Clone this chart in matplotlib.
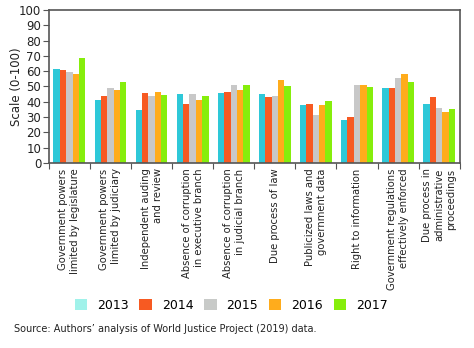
import numpy as np
import matplotlib
matplotlib.use("Agg")
import matplotlib.pyplot as plt
from matplotlib.patches import Patch

# categories and scores
categories = [
    "Government powers\nlimited by legislature",
    "Government powers\nlimited by judiciary",
    "Independent auding\nand review",
    "Absence of corruption\nin executive branch",
    "Absence of corruption\nin judicial branch",
    "Due process of law",
    "Publicized laws and\ngovernment data",
    "Right to information",
    "Government regulations\neffectively enforced",
    "Due process in\nadministrative\nproceedings",
]
years = ["2013", "2014", "2015", "2016", "2017"]
v2013 = [61.2, 41.4, 34.5, 44.8, 45.5, 45.3, 37.7, 28.0, 48.8, 38.8]
v2014 = [60.6, 43.8, 45.5, 38.8, 46.2, 42.9, 38.6, 29.7, 48.8, 42.9]
v2015 = [59.7, 48.8, 43.8, 44.8, 51.2, 43.6, 31.2, 51.2, 55.3, 36.2]
v2016 = [57.9, 47.9, 46.2, 41.2, 47.9, 54.4, 37.7, 51.2, 57.9, 33.0]
v2017 = [68.8, 52.9, 44.5, 43.6, 51.2, 50.3, 40.3, 49.5, 52.7, 35.4]
series = [v2013, v2014, v2015, v2016, v2017]

bar_colors = ["#2ec8d8", "#f75a22", "#c8c8c8", "#ffac1c", "#86ee0c"]
legend_colors = ["#a0f2ea", "#f75a22", "#c8cac8", "#ffac1c", "#86ee0c"]

fig = plt.figure(figsize=(4.74, 3.48), dpi=100)
ax = fig.add_axes([0.103, 0.532, 0.867, 0.439])

x = np.arange(len(categories))
w = 0.155
for i, vals in enumerate(series):
    ax.bar(x + (i - 2) * w, vals, width=w, color=bar_colors[i], linewidth=0)

ax.set_xlim(-0.5, len(categories) - 0.5)
ax.set_ylim(0, 100)
ax.set_yticks(np.arange(0, 101, 10))
ax.set_xticks(np.arange(-0.5, len(categories), 1))
ax.set_xticklabels([])
ax.set_xticks(x, minor=True)
ax.set_xticklabels(categories, minor=True, rotation=90, fontsize=7.2,
                   ha="right", va="center", rotation_mode="anchor",
                   multialignment="right", color="#222222", linespacing=1.25)
ax.tick_params(axis="x", which="minor", length=0, pad=4)
ax.tick_params(axis="x", which="major", length=4, direction="out", color="#555555")
ax.tick_params(axis="y", length=4, direction="out", color="#555555",
               labelsize=8.5, pad=1.5, labelcolor="#222222")
for s in ax.spines.values():
    s.set_color("#555555")
    s.set_linewidth(1.2)

ax.set_ylabel("Scale (0-100)", fontsize=8.5, color="#222222")
ax.yaxis.set_label_coords(-0.063, 0.5)

handles = [Patch(facecolor=c, edgecolor="none") for c in legend_colors]
fig.legend(handles, years, loc="center", bbox_to_anchor=(0.488, 0.123), ncol=5,
           frameon=False, fontsize=9, handlelength=1.0, handleheight=1.0,
           columnspacing=0.85, handletextpad=0.8)

fig.text(0.03, 0.045, "Source: Authors\u2019 analysis of World Justice Project (2019) data.",
         fontsize=7, color="#222222")

fig.savefig("out.png", dpi=100)
